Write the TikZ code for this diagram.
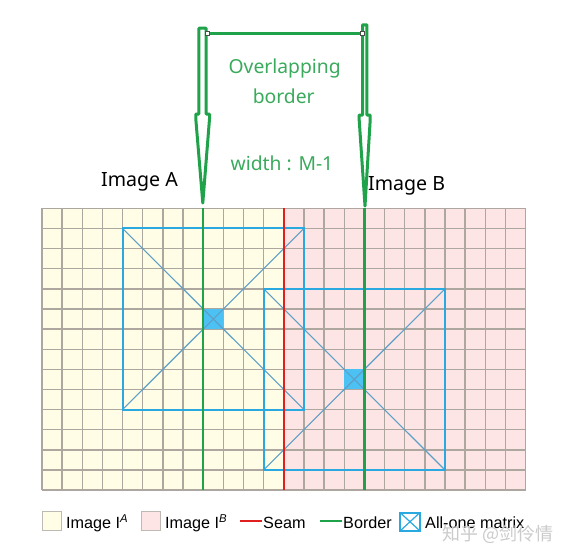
\documentclass[tikz,border=0pt]{standalone}
\usepackage{fontspec}
\setmainfont{Liberation Sans}
\newfontfamily\notosans{Noto Sans}
\newfontfamily\cjk{Noto Sans CJK SC}
\definecolor{yellowbg}{HTML}{FFFDE6}
\definecolor{pinkbg}{HTML}{FDE5E5}
\definecolor{gridc}{HTML}{ADA7A0}
\definecolor{blueframe}{HTML}{2AA9E0}
\definecolor{bluediag}{HTML}{5E9FC6}
\definecolor{bluecell}{HTML}{4CC2F4}
\definecolor{greenline}{HTML}{1FA24A}
\definecolor{greentext}{HTML}{3AAA5C}
\definecolor{redline}{HTML}{E0201F}
\definecolor{wmark}{HTML}{CBCBCB}
\tikzset{
  gridline/.style={draw=gridc, line width=1.4pt},
  bluebox/.style={draw=blueframe, line width=2pt},
  diagline/.style={draw=bluediag, line width=1.1pt},
  seamline/.style={draw=redline, line width=2.2pt},
  borderline/.style={draw=greenline, line width=2.2pt},
  arrowoutline/.style={draw=greenline, fill=white, line width=3pt, line join=round},
  handle/.style={draw=black!70, fill=white, line width=0.6pt, minimum size=4pt, inner sep=0pt},
  greenlabel/.style={text=greentext, font=\notosans\fontsize{19.3}{23}\selectfont, anchor=base, inner sep=0pt},
  imglabel/.style={text=black, font=\notosans\fontsize{19.6}{24}\selectfont, anchor=base west, inner sep=0pt},
  legtext/.style={text=black, font=\fontsize{16.2}{19}\selectfont, anchor=base west, inner sep=0pt},
  legbox/.style={draw=gridc!80, line width=0.8pt},
}
\begin{document}
\begin{tikzpicture}[x=1pt,y=-1pt]
\useasboundingbox[fill=white] (0,0) rectangle (566,557);

% grid
\begin{scope}[shift={(42pt,-208.3pt)}, x=20.15pt, y=-20.13pt]
  \fill[yellowbg] (0,0) rectangle (12,14);
  \fill[pinkbg] (12,0) rectangle (24,14);
  \foreach \i in {0,...,24} \draw[gridline] (\i,0) -- (\i,14);
  \foreach \j in {0,...,14} \draw[gridline] (0,\j) -- (24,\j);
  \fill[bluecell] (8,5) rectangle (9,6);
  \fill[bluecell] (15,8) rectangle (16,9);
  \draw[diagline] (4,1) -- (13,10) (13,1) -- (4,10);
  \draw[diagline] (11,4) -- (20,13) (20,4) -- (11,13);
  \draw[bluebox] (4,1) rectangle (13,10);
  \draw[bluebox] (11,4) rectangle (20,13);
  \draw[seamline] (12,0) -- (12,14);
  \draw[borderline] (8,0) -- (8,14);
  \draw[borderline] (16,0) -- (16,14);
\end{scope}

% block arrows
\draw[arrowoutline] (198.8,28.2) -- (206.2,28.2) -- (206.2,114) -- (209.5,114) -- (209.5,119) -- (202.8,203) -- (195.8,119) -- (195.8,114) -- (198.8,114) -- cycle;
\draw[arrowoutline] (362.6,24.8) -- (366.8,24.8) -- (366.8,115) -- (370.2,115) -- (370.2,120) -- (365,206) -- (359.2,120) -- (359.2,115) -- (362.6,115) -- cycle;

% connector between arrows
\coordinate (ca) at (207.3,33.3);
\coordinate (cb) at (362.7,33.3);
\draw[greenline, line width=3pt] (ca) -- (cb);
\node[handle] (ha) at (ca) {};
\node[handle] (hb) at (cb) {};

% labels
\node[greenlabel] (t1) at (284.7,73.3) {Overlapping};
\node[greenlabel] (t2) at (283.7,103.3) {border};
\node[greenlabel] (t3) at (282,170) {width : M-1};
\node[imglabel] (ia) at (101,186.5) {Image A};
\node[imglabel] (ib) at (368,190) {Image B};

% legend
\draw[legbox, fill=yellowbg] (42.3,511.5) rectangle (61.7,530.5);
\node[legtext] (la) at (66,528.5) {Image I\textsuperscript{\itshape A}};
\draw[legbox, fill=pinkbg] (141,511.5) rectangle (160.7,530.5);
\node[legtext] (lb) at (165,528.5) {Image I\textsuperscript{\itshape B}};
\coordinate (rs) at (240,521);
\coordinate (re) at (261.7,521);
\draw[seamline] (rs) -- (re);
\node[legtext] (ls) at (263,528.5) {Seam};
\coordinate (gs) at (320,521);
\coordinate (ge) at (341.7,521);
\draw[borderline] (gs) -- (ge);
\node[legtext] (lg) at (343,528.5) {Border};
\draw[diagline, draw=blueframe, line width=1.2pt] (400,512.5) -- (420,531) (420,512.5) -- (400,531);
\draw[bluebox] (400,512.5) rectangle (420,531);
\node[legtext] (lm) at (425,528.5) {All-one matrix};

% watermark
\node[text=wmark, font=\cjk\fontsize{18}{20}\selectfont, anchor=base west, inner sep=0pt] (wm) at (442,540) {知乎 @剑伶情};
\end{tikzpicture}
\end{document}
